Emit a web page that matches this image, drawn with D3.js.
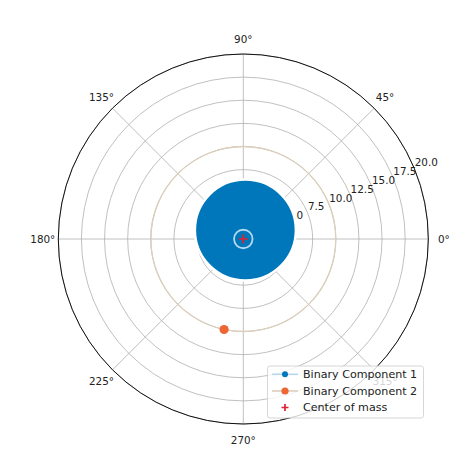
<!DOCTYPE html>
<html>
<head>
<meta charset="utf-8">
<script src="https://cdn.jsdelivr.net/npm/d3@7"></script>
<style>
  body { margin: 0; background: #fff; }
  text { font-family: "DejaVu Sans", sans-serif; fill: #222; }
</style>
</head>
<body>
<script>
// chart data
var thetaTicks = [0, 45, 90, 135, 180, 225, 270, 315];
var radialTicks = [2.5, 5.0, 7.5, 10.0, 12.5, 15.0, 17.5, 20.0];
var seriesNames = ['Binary Component 1', 'Binary Component 2', 'Center of mass'];
var orbitRadii = [1.0, 10.0];
var componentAngles = [77, 258];
var centerOfMass = [0, 0];

var w = 474, h = 473;
var cx = 243.3, cy = 239, R = 185;
var FONT = 10.4, LEGEND_FONT = 11.1;

var BLUE = '#0077bb', ORANGE = '#ee6633', RED = '#dd2233';
var orbitColors = ['#b3d8f0', '#ddcfba'];

var r = d3.scaleLinear().domain([0, 20]).range([0, R]);
var rad = function(deg) { return deg * Math.PI / 180; };
function px(rr, deg) { return cx + r(rr) * Math.cos(rad(deg)); }
function py(rr, deg) { return cy - r(rr) * Math.sin(rad(deg)); }

var svg = d3.select('body').append('svg')
  .attr('width', w)
  .attr('height', h);

// grid circles
svg.append('g').selectAll('circle')
    .data(radialTicks)
  .enter().append('circle')
    .attr('cx', cx).attr('cy', cy)
    .attr('r', function(d) { return r(d); })
    .attr('fill', 'none')
    .attr('stroke', '#b0b0b0')
    .attr('stroke-width', 0.8);

// spokes
svg.append('g').selectAll('line')
    .data(thetaTicks)
  .enter().append('line')
    .attr('x1', cx).attr('y1', cy)
    .attr('x2', function(d) { return px(20, d); })
    .attr('y2', function(d) { return py(20, d); })
    .attr('stroke', '#b0b0b0')
    .attr('stroke-width', 0.8);

// outer spine
svg.append('circle')
  .attr('cx', cx).attr('cy', cy).attr('r', R)
  .attr('fill', 'none').attr('stroke', '#111').attr('stroke-width', 1);

// theta labels
svg.append('g').selectAll('text')
    .data(thetaTicks)
  .enter().append('text')
    .attr('x', function(d) { return cx + (R + 15.5) * Math.cos(rad(d)); })
    .attr('y', function(d) { return cy - (R + 15.5) * Math.sin(rad(d)); })
    .attr('text-anchor', 'middle')
    .attr('dominant-baseline', 'central')
    .style('font-size', FONT + 'px')
    .text(function(d) { return d + '°'; });

// radial labels at 22.5deg
svg.append('g').selectAll('text')
    .data(radialTicks)
  .enter().append('text')
    .attr('x', function(d) { return px(d, 22.5) + 0.5; })
    .attr('y', function(d) { return py(d, 22.5) - 2; })
    .style('font-size', FONT + 'px')
    .text(function(d) { return d.toFixed(1); });

// orbit of component 2
svg.append('circle')
  .attr('cx', cx).attr('cy', cy).attr('r', r(orbitRadii[1]))
  .attr('fill', 'none').attr('stroke', orbitColors[1]).attr('stroke-width', 1.3);

// component 1 (big marker, white edge)
svg.append('circle')
  .attr('cx', px(orbitRadii[0], componentAngles[0]))
  .attr('cy', py(orbitRadii[0], componentAngles[0]))
  .attr('r', 50.5)
  .attr('fill', BLUE)
  .attr('stroke', '#fff')
  .attr('stroke-width', 2.5);

// orbit of component 1
svg.append('circle')
  .attr('cx', cx).attr('cy', cy).attr('r', r(orbitRadii[0]))
  .attr('fill', 'none').attr('stroke', orbitColors[0]).attr('stroke-width', 1.8);

// component 2
svg.append('circle')
  .attr('cx', px(orbitRadii[1], componentAngles[1]))
  .attr('cy', py(orbitRadii[1], componentAngles[1]))
  .attr('r', 4.6)
  .attr('fill', ORANGE);

// center of mass
function plus(g, x, y, s) {
  g.append('path')
    .attr('d', 'M' + (x - s) + ',' + y + 'H' + (x + s) + 'M' + x + ',' + (y - s) + 'V' + (y + s))
    .attr('stroke', RED).attr('stroke-width', 1.7).attr('fill', 'none');
}
plus(svg, px(centerOfMass[0], centerOfMass[1]), py(centerOfMass[0], centerOfMass[1]), 4.6);

// legend
var lg = svg.append('g');
lg.append('rect')
  .attr('x', 267.5).attr('y', 366).attr('width', 156).attr('height', 52)
  .attr('rx', 2.5)
  .attr('fill', '#fff').attr('fill-opacity', 0.8)
  .attr('stroke', '#cccccc').attr('stroke-width', 0.8);

var rowY = [374.3, 391, 407.5];
seriesNames.forEach(function(name, i) {
  var y = rowY[i];
  if (i < 2) {
    lg.append('line')
      .attr('x1', 272).attr('x2', 298).attr('y1', y).attr('y2', y)
      .attr('stroke', orbitColors[i]).attr('stroke-width', 1.6);
    lg.append('circle')
      .attr('cx', 285).attr('cy', y).attr('r', i === 0 ? 3 : 3.6)
      .attr('fill', i === 0 ? BLUE : ORANGE);
  } else {
    plus(lg, 285, y, 3.5);
  }
  lg.append('text')
    .attr('x', 303).attr('y', y)
    .attr('dominant-baseline', 'central')
    .style('font-size', LEGEND_FONT + 'px')
    .text(name);
});
</script>
</body>
</html>
